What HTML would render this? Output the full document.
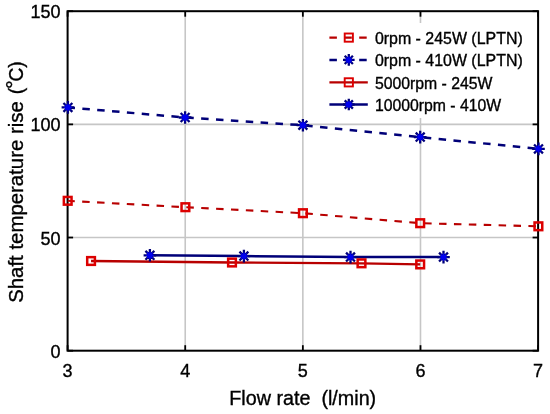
<!DOCTYPE html><html><head><meta charset="utf-8"><style>html,body{margin:0;padding:0;background:#fff;}svg{display:block;}text{font-family:"Liberation Sans",Arial,sans-serif;fill:#000;stroke:#000;stroke-width:0.35px;}</style></head><body>
<svg width="550" height="414" viewBox="0 0 550 414">
<rect width="550" height="414" fill="#fff"/>
<line x1="185.22" y1="11.2" x2="185.22" y2="350.7" stroke="#c6c6c6" stroke-width="1.6"/>
<line x1="302.85" y1="11.2" x2="302.85" y2="350.7" stroke="#c6c6c6" stroke-width="1.6"/>
<line x1="420.48" y1="11.2" x2="420.48" y2="350.7" stroke="#c6c6c6" stroke-width="1.6"/>
<line x1="67.6" y1="237.53" x2="538.1" y2="237.53" stroke="#c6c6c6" stroke-width="1.6"/>
<line x1="67.6" y1="124.37" x2="538.1" y2="124.37" stroke="#c6c6c6" stroke-width="1.6"/>
<rect x="322" y="23" width="212" height="95" fill="#fff"/>
<line x1="67.60" y1="350.7" x2="67.60" y2="345.2" stroke="#000" stroke-width="1.8"/>
<line x1="67.60" y1="11.2" x2="67.60" y2="16.7" stroke="#000" stroke-width="1.8"/>
<line x1="185.22" y1="350.7" x2="185.22" y2="345.2" stroke="#000" stroke-width="1.8"/>
<line x1="185.22" y1="11.2" x2="185.22" y2="16.7" stroke="#000" stroke-width="1.8"/>
<line x1="302.85" y1="350.7" x2="302.85" y2="345.2" stroke="#000" stroke-width="1.8"/>
<line x1="302.85" y1="11.2" x2="302.85" y2="16.7" stroke="#000" stroke-width="1.8"/>
<line x1="420.48" y1="350.7" x2="420.48" y2="345.2" stroke="#000" stroke-width="1.8"/>
<line x1="420.48" y1="11.2" x2="420.48" y2="16.7" stroke="#000" stroke-width="1.8"/>
<line x1="538.10" y1="350.7" x2="538.10" y2="345.2" stroke="#000" stroke-width="1.8"/>
<line x1="538.10" y1="11.2" x2="538.10" y2="16.7" stroke="#000" stroke-width="1.8"/>
<line x1="67.6" y1="350.70" x2="73.1" y2="350.70" stroke="#000" stroke-width="1.8"/>
<line x1="538.1" y1="350.70" x2="532.6" y2="350.70" stroke="#000" stroke-width="1.8"/>
<line x1="67.6" y1="237.53" x2="73.1" y2="237.53" stroke="#000" stroke-width="1.8"/>
<line x1="538.1" y1="237.53" x2="532.6" y2="237.53" stroke="#000" stroke-width="1.8"/>
<line x1="67.6" y1="124.37" x2="73.1" y2="124.37" stroke="#000" stroke-width="1.8"/>
<line x1="538.1" y1="124.37" x2="532.6" y2="124.37" stroke="#000" stroke-width="1.8"/>
<line x1="67.6" y1="11.20" x2="73.1" y2="11.20" stroke="#000" stroke-width="1.8"/>
<line x1="538.1" y1="11.20" x2="532.6" y2="11.20" stroke="#000" stroke-width="1.8"/>
<rect x="67.6" y="11.2" width="470.50" height="339.50" fill="none" stroke="#000" stroke-width="2"/>
<text x="67.60" y="376.6" font-size="18" text-anchor="middle">3</text>
<text x="185.22" y="376.6" font-size="18" text-anchor="middle">4</text>
<text x="302.85" y="376.6" font-size="18" text-anchor="middle">5</text>
<text x="420.48" y="376.6" font-size="18" text-anchor="middle">6</text>
<text x="538.10" y="376.6" font-size="18" text-anchor="middle">7</text>
<text x="60.5" y="357.70" font-size="18" text-anchor="end">0</text>
<text x="60.5" y="244.53" font-size="18" text-anchor="end">50</text>
<text x="60.5" y="131.37" font-size="18" text-anchor="end">100</text>
<text x="60.5" y="18.20" font-size="18" text-anchor="end">150</text>
<polyline points="67.70,200.80 185.40,207.20 302.90,213.20 420.20,223.20 538.40,226.30" fill="none" stroke="#b80000" stroke-width="2.1" stroke-dasharray="7.5 7.4" stroke-dashoffset="0.4"/>
<polyline points="67.90,107.40 185.10,117.50 302.90,125.20 420.20,137.10 538.50,148.90" fill="none" stroke="#000078" stroke-width="2.5" stroke-dasharray="7.5 7.4" stroke-dashoffset="0.4"/>
<polyline points="91.05,261.00 232.00,262.50 361.50,263.30 420.20,264.40" fill="none" stroke="#b80000" stroke-width="2.3"/>
<polyline points="149.90,255.30 243.90,256.10 350.50,257.10 443.50,257.10" fill="none" stroke="#000078" stroke-width="2.5"/>
<rect x="63.85" y="196.95" width="7.7" height="7.7" fill="none" stroke="#dc0000" stroke-width="2.5"/>
<rect x="181.55" y="203.35" width="7.7" height="7.7" fill="none" stroke="#dc0000" stroke-width="2.5"/>
<rect x="299.05" y="209.35" width="7.7" height="7.7" fill="none" stroke="#dc0000" stroke-width="2.5"/>
<rect x="416.35" y="219.35" width="7.7" height="7.7" fill="none" stroke="#dc0000" stroke-width="2.5"/>
<rect x="534.55" y="222.45" width="7.7" height="7.7" fill="none" stroke="#dc0000" stroke-width="2.5"/>
<path d="M61.60,107.40L74.20,107.40M63.45,102.95L72.35,111.85M67.90,101.10L67.90,113.70M72.35,102.95L63.45,111.85" stroke="#00007a" stroke-width="2.3" fill="none"/><circle cx="67.90" cy="107.40" r="2.7" fill="#0000f0"/><path d="M63.99,107.40L71.81,107.40M65.14,104.64L70.66,110.16M67.90,103.49L67.90,111.31M70.66,104.64L65.14,110.16" stroke="#0000f0" stroke-width="1.3" fill="none"/>
<path d="M178.80,117.50L191.40,117.50M180.65,113.05L189.55,121.95M185.10,111.20L185.10,123.80M189.55,113.05L180.65,121.95" stroke="#00007a" stroke-width="2.3" fill="none"/><circle cx="185.10" cy="117.50" r="2.7" fill="#0000f0"/><path d="M181.19,117.50L189.01,117.50M182.34,114.74L187.86,120.26M185.10,113.59L185.10,121.41M187.86,114.74L182.34,120.26" stroke="#0000f0" stroke-width="1.3" fill="none"/>
<path d="M296.60,125.20L309.20,125.20M298.45,120.75L307.35,129.65M302.90,118.90L302.90,131.50M307.35,120.75L298.45,129.65" stroke="#00007a" stroke-width="2.3" fill="none"/><circle cx="302.90" cy="125.20" r="2.7" fill="#0000f0"/><path d="M298.99,125.20L306.81,125.20M300.14,122.44L305.66,127.96M302.90,121.29L302.90,129.11M305.66,122.44L300.14,127.96" stroke="#0000f0" stroke-width="1.3" fill="none"/>
<path d="M413.90,137.10L426.50,137.10M415.75,132.65L424.65,141.55M420.20,130.80L420.20,143.40M424.65,132.65L415.75,141.55" stroke="#00007a" stroke-width="2.3" fill="none"/><circle cx="420.20" cy="137.10" r="2.7" fill="#0000f0"/><path d="M416.29,137.10L424.11,137.10M417.44,134.34L422.96,139.86M420.20,133.19L420.20,141.01M422.96,134.34L417.44,139.86" stroke="#0000f0" stroke-width="1.3" fill="none"/>
<path d="M532.20,148.90L544.80,148.90M534.05,144.45L542.95,153.35M538.50,142.60L538.50,155.20M542.95,144.45L534.05,153.35" stroke="#00007a" stroke-width="2.3" fill="none"/><circle cx="538.50" cy="148.90" r="2.7" fill="#0000f0"/><path d="M534.59,148.90L542.41,148.90M535.74,146.14L541.26,151.66M538.50,144.99L538.50,152.81M541.26,146.14L535.74,151.66" stroke="#0000f0" stroke-width="1.3" fill="none"/>
<rect x="87.20" y="257.15" width="7.7" height="7.7" fill="none" stroke="#dc0000" stroke-width="2.5"/>
<rect x="228.15" y="258.65" width="7.7" height="7.7" fill="none" stroke="#dc0000" stroke-width="2.5"/>
<rect x="357.65" y="259.45" width="7.7" height="7.7" fill="none" stroke="#dc0000" stroke-width="2.5"/>
<rect x="416.35" y="260.55" width="7.7" height="7.7" fill="none" stroke="#dc0000" stroke-width="2.5"/>
<path d="M143.60,255.30L156.20,255.30M145.45,250.85L154.35,259.75M149.90,249.00L149.90,261.60M154.35,250.85L145.45,259.75" stroke="#00007a" stroke-width="2.3" fill="none"/><circle cx="149.90" cy="255.30" r="2.7" fill="#0000f0"/><path d="M145.99,255.30L153.81,255.30M147.14,252.54L152.66,258.06M149.90,251.39L149.90,259.21M152.66,252.54L147.14,258.06" stroke="#0000f0" stroke-width="1.3" fill="none"/>
<path d="M237.60,256.10L250.20,256.10M239.45,251.65L248.35,260.55M243.90,249.80L243.90,262.40M248.35,251.65L239.45,260.55" stroke="#00007a" stroke-width="2.3" fill="none"/><circle cx="243.90" cy="256.10" r="2.7" fill="#0000f0"/><path d="M239.99,256.10L247.81,256.10M241.14,253.34L246.66,258.86M243.90,252.19L243.90,260.01M246.66,253.34L241.14,258.86" stroke="#0000f0" stroke-width="1.3" fill="none"/>
<path d="M344.20,257.10L356.80,257.10M346.05,252.65L354.95,261.55M350.50,250.80L350.50,263.40M354.95,252.65L346.05,261.55" stroke="#00007a" stroke-width="2.3" fill="none"/><circle cx="350.50" cy="257.10" r="2.7" fill="#0000f0"/><path d="M346.59,257.10L354.41,257.10M347.74,254.34L353.26,259.86M350.50,253.19L350.50,261.01M353.26,254.34L347.74,259.86" stroke="#0000f0" stroke-width="1.3" fill="none"/>
<path d="M437.20,257.10L449.80,257.10M439.05,252.65L447.95,261.55M443.50,250.80L443.50,263.40M447.95,252.65L439.05,261.55" stroke="#00007a" stroke-width="2.3" fill="none"/><circle cx="443.50" cy="257.10" r="2.7" fill="#0000f0"/><path d="M439.59,257.10L447.41,257.10M440.74,254.34L446.26,259.86M443.50,253.19L443.50,261.01M446.26,254.34L440.74,259.86" stroke="#0000f0" stroke-width="1.3" fill="none"/>
<line x1="329.4" y1="37.6" x2="367.8" y2="37.6" stroke="#b80000" stroke-width="2.3" stroke-dasharray="7.5 7.4"/>
<rect x="344.70" y="33.50" width="8.2" height="8.2" fill="none" stroke="#dc0000" stroke-width="1.9"/>
<text x="374.9" y="43.7" font-size="16" textLength="147.8" lengthAdjust="spacingAndGlyphs">0rpm - 245W (LPTN)</text>
<line x1="329.4" y1="59.9" x2="367.8" y2="59.9" stroke="#000078" stroke-width="2.5" stroke-dasharray="7.5 7.4"/>
<path d="M343.00,59.90L354.60,59.90M344.70,55.80L352.90,64.00M348.80,54.10L348.80,65.70M352.90,55.80L344.70,64.00" stroke="#00007a" stroke-width="2.3" fill="none"/><circle cx="348.80" cy="59.90" r="2.7" fill="#0000f0"/><path d="M345.20,59.90L352.40,59.90M346.26,57.36L351.34,62.44M348.80,56.30L348.80,63.50M351.34,57.36L346.26,62.44" stroke="#0000f0" stroke-width="1.3" fill="none"/>
<text x="374.9" y="66.2" font-size="16" textLength="147.8" lengthAdjust="spacingAndGlyphs">0rpm - 410W (LPTN)</text>
<line x1="329.4" y1="82.35" x2="367.8" y2="82.35" stroke="#b80000" stroke-width="2.3"/>
<rect x="344.70" y="78.25" width="8.2" height="8.2" fill="none" stroke="#dc0000" stroke-width="1.9"/>
<text x="374.9" y="88.6" font-size="16" textLength="117.6" lengthAdjust="spacingAndGlyphs">5000rpm - 245W</text>
<line x1="329.4" y1="104.5" x2="367.8" y2="104.5" stroke="#000078" stroke-width="2.5"/>
<path d="M343.00,104.50L354.60,104.50M344.70,100.40L352.90,108.60M348.80,98.70L348.80,110.30M352.90,100.40L344.70,108.60" stroke="#00007a" stroke-width="2.3" fill="none"/><circle cx="348.80" cy="104.50" r="2.7" fill="#0000f0"/><path d="M345.20,104.50L352.40,104.50M346.26,101.96L351.34,107.04M348.80,100.90L348.80,108.10M351.34,101.96L346.26,107.04" stroke="#0000f0" stroke-width="1.3" fill="none"/>
<text x="374.9" y="111.1" font-size="16" textLength="126.3" lengthAdjust="spacingAndGlyphs">10000rpm - 410W</text>
<text x="229.3" y="404.5" font-size="19.3" xml:space="preserve" textLength="146.9" lengthAdjust="spacingAndGlyphs">Flow rate  (l/min)</text>
<text transform="translate(22.8,302.8) rotate(-90)" font-size="19.3"><tspan x="0" textLength="201.6" lengthAdjust="spacingAndGlyphs">Shaft temperature rise</tspan><tspan x="203.2"> (</tspan><tspan dx="-1" dy="-1.9" font-size="21">°</tspan><tspan dx="-1.2" dy="1.9">C)</tspan></text>
</svg></body></html>
